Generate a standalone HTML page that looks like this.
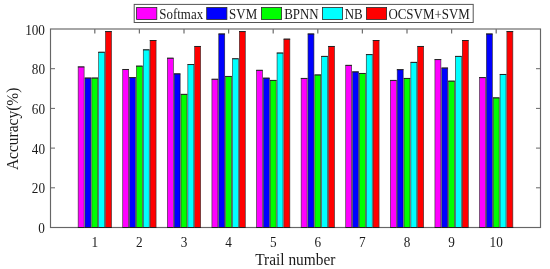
<!DOCTYPE html><html><head><meta charset="utf-8"><title>Accuracy chart</title><style>html,body{margin:0;padding:0;background:#fff;}svg{display:block;}</style></head><body>
<svg width="550" height="269" viewBox="0 0 550 269" font-family="'Liberation Serif', 'Times New Roman', serif">
<rect width="550" height="269" fill="#fff"/>
<rect x="50.5" y="29.0" width="490.0" height="198.5" fill="none" stroke="#666" stroke-width="1.15"/>
<line x1="94.80" y1="29.0" x2="94.80" y2="33.5" stroke="#707070" stroke-width="1.25"/>
<line x1="94.80" y1="227.5" x2="94.80" y2="223.0" stroke="#707070" stroke-width="1.25"/>
<text transform="translate(94.80,247) scale(0.86,1)" font-size="15.4" text-anchor="middle" fill="#1a1a1a">1</text>
<line x1="139.40" y1="29.0" x2="139.40" y2="33.5" stroke="#707070" stroke-width="1.25"/>
<line x1="139.40" y1="227.5" x2="139.40" y2="223.0" stroke="#707070" stroke-width="1.25"/>
<text transform="translate(139.40,247) scale(0.86,1)" font-size="15.4" text-anchor="middle" fill="#1a1a1a">2</text>
<line x1="184.00" y1="29.0" x2="184.00" y2="33.5" stroke="#707070" stroke-width="1.25"/>
<line x1="184.00" y1="227.5" x2="184.00" y2="223.0" stroke="#707070" stroke-width="1.25"/>
<text transform="translate(184.00,247) scale(0.86,1)" font-size="15.4" text-anchor="middle" fill="#1a1a1a">3</text>
<line x1="228.60" y1="29.0" x2="228.60" y2="33.5" stroke="#707070" stroke-width="1.25"/>
<line x1="228.60" y1="227.5" x2="228.60" y2="223.0" stroke="#707070" stroke-width="1.25"/>
<text transform="translate(228.60,247) scale(0.86,1)" font-size="15.4" text-anchor="middle" fill="#1a1a1a">4</text>
<line x1="273.20" y1="29.0" x2="273.20" y2="33.5" stroke="#707070" stroke-width="1.25"/>
<line x1="273.20" y1="227.5" x2="273.20" y2="223.0" stroke="#707070" stroke-width="1.25"/>
<text transform="translate(273.20,247) scale(0.86,1)" font-size="15.4" text-anchor="middle" fill="#1a1a1a">5</text>
<line x1="317.80" y1="29.0" x2="317.80" y2="33.5" stroke="#707070" stroke-width="1.25"/>
<line x1="317.80" y1="227.5" x2="317.80" y2="223.0" stroke="#707070" stroke-width="1.25"/>
<text transform="translate(317.80,247) scale(0.86,1)" font-size="15.4" text-anchor="middle" fill="#1a1a1a">6</text>
<line x1="362.40" y1="29.0" x2="362.40" y2="33.5" stroke="#707070" stroke-width="1.25"/>
<line x1="362.40" y1="227.5" x2="362.40" y2="223.0" stroke="#707070" stroke-width="1.25"/>
<text transform="translate(362.40,247) scale(0.86,1)" font-size="15.4" text-anchor="middle" fill="#1a1a1a">7</text>
<line x1="407.00" y1="29.0" x2="407.00" y2="33.5" stroke="#707070" stroke-width="1.25"/>
<line x1="407.00" y1="227.5" x2="407.00" y2="223.0" stroke="#707070" stroke-width="1.25"/>
<text transform="translate(407.00,247) scale(0.86,1)" font-size="15.4" text-anchor="middle" fill="#1a1a1a">8</text>
<line x1="451.60" y1="29.0" x2="451.60" y2="33.5" stroke="#707070" stroke-width="1.25"/>
<line x1="451.60" y1="227.5" x2="451.60" y2="223.0" stroke="#707070" stroke-width="1.25"/>
<text transform="translate(451.60,247) scale(0.86,1)" font-size="15.4" text-anchor="middle" fill="#1a1a1a">9</text>
<line x1="496.20" y1="29.0" x2="496.20" y2="33.5" stroke="#707070" stroke-width="1.25"/>
<line x1="496.20" y1="227.5" x2="496.20" y2="223.0" stroke="#707070" stroke-width="1.25"/>
<text transform="translate(496.20,247) scale(0.86,1)" font-size="15.4" text-anchor="middle" fill="#1a1a1a">10</text>
<text transform="translate(45.0,233.00) scale(0.86,1)" font-size="15.4" text-anchor="end" fill="#1a1a1a">0</text>
<line x1="50.5" y1="187.80" x2="55.0" y2="187.80" stroke="#666" stroke-width="1"/>
<line x1="540.5" y1="187.80" x2="536.0" y2="187.80" stroke="#666" stroke-width="1"/>
<text transform="translate(45.0,193.30) scale(0.86,1)" font-size="15.4" text-anchor="end" fill="#1a1a1a">20</text>
<line x1="50.5" y1="148.10" x2="55.0" y2="148.10" stroke="#666" stroke-width="1"/>
<line x1="540.5" y1="148.10" x2="536.0" y2="148.10" stroke="#666" stroke-width="1"/>
<text transform="translate(45.0,153.60) scale(0.86,1)" font-size="15.4" text-anchor="end" fill="#1a1a1a">40</text>
<line x1="50.5" y1="108.40" x2="55.0" y2="108.40" stroke="#666" stroke-width="1"/>
<line x1="540.5" y1="108.40" x2="536.0" y2="108.40" stroke="#666" stroke-width="1"/>
<text transform="translate(45.0,113.90) scale(0.86,1)" font-size="15.4" text-anchor="end" fill="#1a1a1a">60</text>
<line x1="50.5" y1="68.70" x2="55.0" y2="68.70" stroke="#666" stroke-width="1"/>
<line x1="540.5" y1="68.70" x2="536.0" y2="68.70" stroke="#666" stroke-width="1"/>
<text transform="translate(45.0,74.20) scale(0.86,1)" font-size="15.4" text-anchor="end" fill="#1a1a1a">80</text>
<text transform="translate(45.0,34.50) scale(0.86,1)" font-size="15.4" text-anchor="end" fill="#1a1a1a">100</text>
<defs><filter id="soft" x="0" y="0" width="550" height="269" filterUnits="userSpaceOnUse"><feGaussianBlur stdDeviation="0.38 0.2"/></filter></defs>
<g filter="url(#soft)">
<rect x="78.14" y="66.91" width="5.96" height="160.59" fill="#ff00ff" stroke="#2a2a2a" stroke-width="0.6"/>
<path d="M77.84 66.91H84.40M77.84 227.50H84.40" stroke="#1c1c1c" stroke-width="0.9" fill="none"/>
<rect x="84.98" y="78.03" width="5.96" height="149.47" fill="#0000ff" stroke="#2a2a2a" stroke-width="0.6"/>
<path d="M84.68 78.03H91.24M84.68 227.50H91.24" stroke="#1c1c1c" stroke-width="0.9" fill="none"/>
<rect x="91.82" y="78.03" width="5.96" height="149.47" fill="#00ff00" stroke="#2a2a2a" stroke-width="0.6"/>
<path d="M91.52 78.03H98.08M91.52 227.50H98.08" stroke="#1c1c1c" stroke-width="0.9" fill="none"/>
<rect x="98.66" y="52.22" width="5.96" height="175.28" fill="#00ffff" stroke="#2a2a2a" stroke-width="0.6"/>
<path d="M98.36 52.22H104.92M98.36 227.50H104.92" stroke="#1c1c1c" stroke-width="0.9" fill="none"/>
<rect x="105.50" y="31.58" width="5.96" height="195.92" fill="#ff0000" stroke="#2a2a2a" stroke-width="0.6"/>
<path d="M105.20 31.58H111.76M105.20 227.50H111.76" stroke="#1c1c1c" stroke-width="0.9" fill="none"/>
<rect x="122.74" y="69.49" width="5.96" height="158.01" fill="#ff00ff" stroke="#2a2a2a" stroke-width="0.6"/>
<path d="M122.44 69.49H129.00M122.44 227.50H129.00" stroke="#1c1c1c" stroke-width="0.9" fill="none"/>
<rect x="129.58" y="77.63" width="5.96" height="149.87" fill="#0000ff" stroke="#2a2a2a" stroke-width="0.6"/>
<path d="M129.28 77.63H135.84M129.28 227.50H135.84" stroke="#1c1c1c" stroke-width="0.9" fill="none"/>
<rect x="136.42" y="66.12" width="5.96" height="161.38" fill="#00ff00" stroke="#2a2a2a" stroke-width="0.6"/>
<path d="M136.12 66.12H142.68M136.12 227.50H142.68" stroke="#1c1c1c" stroke-width="0.9" fill="none"/>
<rect x="143.26" y="49.84" width="5.96" height="177.66" fill="#00ffff" stroke="#2a2a2a" stroke-width="0.6"/>
<path d="M142.96 49.84H149.52M142.96 227.50H149.52" stroke="#1c1c1c" stroke-width="0.9" fill="none"/>
<rect x="150.10" y="40.51" width="5.96" height="186.99" fill="#ff0000" stroke="#2a2a2a" stroke-width="0.6"/>
<path d="M149.80 40.51H156.36M149.80 227.50H156.36" stroke="#1c1c1c" stroke-width="0.9" fill="none"/>
<rect x="167.34" y="58.18" width="5.96" height="169.32" fill="#ff00ff" stroke="#2a2a2a" stroke-width="0.6"/>
<path d="M167.04 58.18H173.60M167.04 227.50H173.60" stroke="#1c1c1c" stroke-width="0.9" fill="none"/>
<rect x="174.18" y="73.86" width="5.96" height="153.64" fill="#0000ff" stroke="#2a2a2a" stroke-width="0.6"/>
<path d="M173.88 73.86H180.44M173.88 227.50H180.44" stroke="#1c1c1c" stroke-width="0.9" fill="none"/>
<rect x="181.02" y="94.31" width="5.96" height="133.19" fill="#00ff00" stroke="#2a2a2a" stroke-width="0.6"/>
<path d="M180.72 94.31H187.28M180.72 227.50H187.28" stroke="#1c1c1c" stroke-width="0.9" fill="none"/>
<rect x="187.86" y="64.53" width="5.96" height="162.97" fill="#00ffff" stroke="#2a2a2a" stroke-width="0.6"/>
<path d="M187.56 64.53H194.12M187.56 227.50H194.12" stroke="#1c1c1c" stroke-width="0.9" fill="none"/>
<rect x="194.70" y="46.47" width="5.96" height="181.03" fill="#ff0000" stroke="#2a2a2a" stroke-width="0.6"/>
<path d="M194.40 46.47H200.96M194.40 227.50H200.96" stroke="#1c1c1c" stroke-width="0.9" fill="none"/>
<rect x="211.94" y="79.22" width="5.96" height="148.28" fill="#ff00ff" stroke="#2a2a2a" stroke-width="0.6"/>
<path d="M211.64 79.22H218.20M211.64 227.50H218.20" stroke="#1c1c1c" stroke-width="0.9" fill="none"/>
<rect x="218.78" y="33.96" width="5.96" height="193.54" fill="#0000ff" stroke="#2a2a2a" stroke-width="0.6"/>
<path d="M218.48 33.96H225.04M218.48 227.50H225.04" stroke="#1c1c1c" stroke-width="0.9" fill="none"/>
<rect x="225.62" y="76.44" width="5.96" height="151.06" fill="#00ff00" stroke="#2a2a2a" stroke-width="0.6"/>
<path d="M225.32 76.44H231.88M225.32 227.50H231.88" stroke="#1c1c1c" stroke-width="0.9" fill="none"/>
<rect x="232.46" y="58.78" width="5.96" height="168.72" fill="#00ffff" stroke="#2a2a2a" stroke-width="0.6"/>
<path d="M232.16 58.78H238.72M232.16 227.50H238.72" stroke="#1c1c1c" stroke-width="0.9" fill="none"/>
<rect x="239.30" y="31.58" width="5.96" height="195.92" fill="#ff0000" stroke="#2a2a2a" stroke-width="0.6"/>
<path d="M239.00 31.58H245.56M239.00 227.50H245.56" stroke="#1c1c1c" stroke-width="0.9" fill="none"/>
<rect x="256.54" y="70.29" width="5.96" height="157.21" fill="#ff00ff" stroke="#2a2a2a" stroke-width="0.6"/>
<path d="M256.24 70.29H262.80M256.24 227.50H262.80" stroke="#1c1c1c" stroke-width="0.9" fill="none"/>
<rect x="263.38" y="78.13" width="5.96" height="149.37" fill="#0000ff" stroke="#2a2a2a" stroke-width="0.6"/>
<path d="M263.08 78.13H269.64M263.08 227.50H269.64" stroke="#1c1c1c" stroke-width="0.9" fill="none"/>
<rect x="270.22" y="80.41" width="5.96" height="147.09" fill="#00ff00" stroke="#2a2a2a" stroke-width="0.6"/>
<path d="M269.92 80.41H276.48M269.92 227.50H276.48" stroke="#1c1c1c" stroke-width="0.9" fill="none"/>
<rect x="277.06" y="53.02" width="5.96" height="174.48" fill="#00ffff" stroke="#2a2a2a" stroke-width="0.6"/>
<path d="M276.76 53.02H283.32M276.76 227.50H283.32" stroke="#1c1c1c" stroke-width="0.9" fill="none"/>
<rect x="283.90" y="39.12" width="5.96" height="188.38" fill="#ff0000" stroke="#2a2a2a" stroke-width="0.6"/>
<path d="M283.60 39.12H290.16M283.60 227.50H290.16" stroke="#1c1c1c" stroke-width="0.9" fill="none"/>
<rect x="301.14" y="78.43" width="5.96" height="149.07" fill="#ff00ff" stroke="#2a2a2a" stroke-width="0.6"/>
<path d="M300.84 78.43H307.40M300.84 227.50H307.40" stroke="#1c1c1c" stroke-width="0.9" fill="none"/>
<rect x="307.98" y="33.96" width="5.96" height="193.54" fill="#0000ff" stroke="#2a2a2a" stroke-width="0.6"/>
<path d="M307.68 33.96H314.24M307.68 227.50H314.24" stroke="#1c1c1c" stroke-width="0.9" fill="none"/>
<rect x="314.82" y="74.95" width="5.96" height="152.55" fill="#00ff00" stroke="#2a2a2a" stroke-width="0.6"/>
<path d="M314.52 74.95H321.08M314.52 227.50H321.08" stroke="#1c1c1c" stroke-width="0.9" fill="none"/>
<rect x="321.66" y="56.39" width="5.96" height="171.11" fill="#00ffff" stroke="#2a2a2a" stroke-width="0.6"/>
<path d="M321.36 56.39H327.92M321.36 227.50H327.92" stroke="#1c1c1c" stroke-width="0.9" fill="none"/>
<rect x="328.50" y="46.47" width="5.96" height="181.03" fill="#ff0000" stroke="#2a2a2a" stroke-width="0.6"/>
<path d="M328.20 46.47H334.76M328.20 227.50H334.76" stroke="#1c1c1c" stroke-width="0.9" fill="none"/>
<rect x="345.74" y="65.33" width="5.96" height="162.17" fill="#ff00ff" stroke="#2a2a2a" stroke-width="0.6"/>
<path d="M345.44 65.33H352.00M345.44 227.50H352.00" stroke="#1c1c1c" stroke-width="0.9" fill="none"/>
<rect x="352.58" y="71.88" width="5.96" height="155.62" fill="#0000ff" stroke="#2a2a2a" stroke-width="0.6"/>
<path d="M352.28 71.88H358.84M352.28 227.50H358.84" stroke="#1c1c1c" stroke-width="0.9" fill="none"/>
<rect x="359.42" y="73.46" width="5.96" height="154.04" fill="#00ff00" stroke="#2a2a2a" stroke-width="0.6"/>
<path d="M359.12 73.46H365.68M359.12 227.50H365.68" stroke="#1c1c1c" stroke-width="0.9" fill="none"/>
<rect x="366.26" y="54.61" width="5.96" height="172.89" fill="#00ffff" stroke="#2a2a2a" stroke-width="0.6"/>
<path d="M365.96 54.61H372.52M365.96 227.50H372.52" stroke="#1c1c1c" stroke-width="0.9" fill="none"/>
<rect x="373.10" y="40.51" width="5.96" height="186.99" fill="#ff0000" stroke="#2a2a2a" stroke-width="0.6"/>
<path d="M372.80 40.51H379.36M372.80 227.50H379.36" stroke="#1c1c1c" stroke-width="0.9" fill="none"/>
<rect x="390.34" y="80.41" width="5.96" height="147.09" fill="#ff00ff" stroke="#2a2a2a" stroke-width="0.6"/>
<path d="M390.04 80.41H396.60M390.04 227.50H396.60" stroke="#1c1c1c" stroke-width="0.9" fill="none"/>
<rect x="397.18" y="69.69" width="5.96" height="157.81" fill="#0000ff" stroke="#2a2a2a" stroke-width="0.6"/>
<path d="M396.88 69.69H403.44M396.88 227.50H403.44" stroke="#1c1c1c" stroke-width="0.9" fill="none"/>
<rect x="404.02" y="78.43" width="5.96" height="149.07" fill="#00ff00" stroke="#2a2a2a" stroke-width="0.6"/>
<path d="M403.72 78.43H410.28M403.72 227.50H410.28" stroke="#1c1c1c" stroke-width="0.9" fill="none"/>
<rect x="410.86" y="62.35" width="5.96" height="165.15" fill="#00ffff" stroke="#2a2a2a" stroke-width="0.6"/>
<path d="M410.56 62.35H417.12M410.56 227.50H417.12" stroke="#1c1c1c" stroke-width="0.9" fill="none"/>
<rect x="417.70" y="46.47" width="5.96" height="181.03" fill="#ff0000" stroke="#2a2a2a" stroke-width="0.6"/>
<path d="M417.40 46.47H423.96M417.40 227.50H423.96" stroke="#1c1c1c" stroke-width="0.9" fill="none"/>
<rect x="434.94" y="59.57" width="5.96" height="167.93" fill="#ff00ff" stroke="#2a2a2a" stroke-width="0.6"/>
<path d="M434.64 59.57H441.20M434.64 227.50H441.20" stroke="#1c1c1c" stroke-width="0.9" fill="none"/>
<rect x="441.78" y="68.01" width="5.96" height="159.49" fill="#0000ff" stroke="#2a2a2a" stroke-width="0.6"/>
<path d="M441.48 68.01H448.04M441.48 227.50H448.04" stroke="#1c1c1c" stroke-width="0.9" fill="none"/>
<rect x="448.62" y="81.11" width="5.96" height="146.39" fill="#00ff00" stroke="#2a2a2a" stroke-width="0.6"/>
<path d="M448.32 81.11H454.88M448.32 227.50H454.88" stroke="#1c1c1c" stroke-width="0.9" fill="none"/>
<rect x="455.46" y="56.39" width="5.96" height="171.11" fill="#00ffff" stroke="#2a2a2a" stroke-width="0.6"/>
<path d="M455.16 56.39H461.72M455.16 227.50H461.72" stroke="#1c1c1c" stroke-width="0.9" fill="none"/>
<rect x="462.30" y="40.51" width="5.96" height="186.99" fill="#ff0000" stroke="#2a2a2a" stroke-width="0.6"/>
<path d="M462.00 40.51H468.56M462.00 227.50H468.56" stroke="#1c1c1c" stroke-width="0.9" fill="none"/>
<rect x="479.54" y="77.63" width="5.96" height="149.87" fill="#ff00ff" stroke="#2a2a2a" stroke-width="0.6"/>
<path d="M479.24 77.63H485.80M479.24 227.50H485.80" stroke="#1c1c1c" stroke-width="0.9" fill="none"/>
<rect x="486.38" y="33.96" width="5.96" height="193.54" fill="#0000ff" stroke="#2a2a2a" stroke-width="0.6"/>
<path d="M486.08 33.96H492.64M486.08 227.50H492.64" stroke="#1c1c1c" stroke-width="0.9" fill="none"/>
<rect x="493.22" y="97.88" width="5.96" height="129.62" fill="#00ff00" stroke="#2a2a2a" stroke-width="0.6"/>
<path d="M492.92 97.88H499.48M492.92 227.50H499.48" stroke="#1c1c1c" stroke-width="0.9" fill="none"/>
<rect x="500.06" y="74.46" width="5.96" height="153.04" fill="#00ffff" stroke="#2a2a2a" stroke-width="0.6"/>
<path d="M499.76 74.46H506.32M499.76 227.50H506.32" stroke="#1c1c1c" stroke-width="0.9" fill="none"/>
<rect x="506.90" y="31.58" width="5.96" height="195.92" fill="#ff0000" stroke="#2a2a2a" stroke-width="0.6"/>
<path d="M506.60 31.58H513.16M506.60 227.50H513.16" stroke="#1c1c1c" stroke-width="0.9" fill="none"/>
</g>
<text transform="translate(295.3,264.9) scale(0.905,1)" font-size="17" text-anchor="middle" fill="#1a1a1a">Trail number</text>
<text transform="translate(17.7,128.9) rotate(-90) scale(0.95,1)" font-size="16.3" text-anchor="middle" fill="#1a1a1a">Accuracy(%)</text>
<rect x="134.2" y="4.4" width="339.0" height="18.1" fill="#fff" stroke="#555" stroke-width="1"/>
<rect x="136.6" y="7.5" width="20.2" height="12" fill="#ff00ff" stroke="#2a2a2a" stroke-width="0.8"/>
<text transform="translate(159.29999999999998,18.6) scale(0.84,1)" font-size="15.4" fill="#1a1a1a">Softmax</text>
<rect x="206.7" y="7.5" width="20.2" height="12" fill="#0000ff" stroke="#2a2a2a" stroke-width="0.8"/>
<text transform="translate(229.1,18.6) scale(0.84,1)" font-size="15.4" fill="#1a1a1a">SVM</text>
<rect x="261.4" y="7.5" width="20.2" height="12" fill="#00ff00" stroke="#2a2a2a" stroke-width="0.8"/>
<text transform="translate(284.2,18.6) scale(0.84,1)" font-size="15.4" fill="#1a1a1a">BPNN</text>
<rect x="322.4" y="7.5" width="20.2" height="12" fill="#00ffff" stroke="#2a2a2a" stroke-width="0.8"/>
<text transform="translate(344.7,18.6) scale(0.84,1)" font-size="15.4" fill="#1a1a1a">NB</text>
<rect x="366.4" y="7.5" width="20.2" height="12" fill="#ff0000" stroke="#2a2a2a" stroke-width="0.8"/>
<text transform="translate(388.4,18.6) scale(0.84,1)" font-size="15.4" fill="#1a1a1a">OCSVM+SVM</text>
</svg></body></html>
